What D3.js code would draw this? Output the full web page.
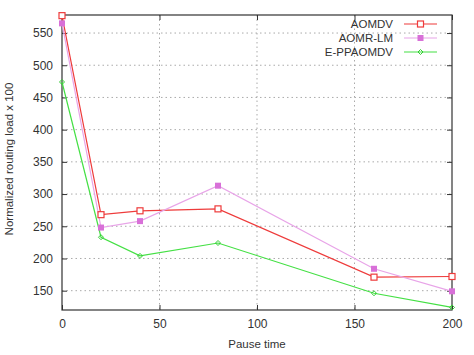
<!DOCTYPE html>
<html><head><meta charset="utf-8">
<script src="https://cdn.jsdelivr.net/npm/d3@7"></script>
<style>body{margin:0;background:#fff}svg{display:block}text{font-family:"Liberation Sans",Arial,sans-serif;fill:#333}</style>
</head><body><svg id="c" width="474" height="355"></svg>
<script>
const pauseTimes = [0, 20, 40, 80, 160, 200];
const aomdv = [577, 268, 274, 277, 171, 172];
const aomrLm = [565, 248, 258, 313, 184, 149];
const eppaomdv = [474, 233, 204, 224, 146, 124];
const xTicks = [0, 50, 100, 150, 200];
const yTicks = [150, 200, 250, 300, 350, 400, 450, 500, 550];
const seriesNames = ["AOMDV", "AOMR-LM", "E-PPAOMDV"];

const svg = d3.select("#c");
const L = 62, R = 452, T = 15, B = 310;
const x = d3.scaleLinear().domain([0, 200]).range([L, R]);
const y = d3.scaleLinear().domain([120, 578]).range([B, T]);

const series = [
  {name: seriesNames[0], vals: aomdv, line: "#ee3b3b", mark: "#ee3b3b", type: "open"},
  {name: seriesNames[1], vals: aomrLm, line: "#e8a4e8", mark: "#d870d8", type: "filled"},
  {name: seriesNames[2], vals: eppaomdv, line: "#44e044", mark: "#33cc33", type: "diamond"}
];

// grid
const g = svg.append("g");
yTicks.forEach(v => g.append("line").attr("x1", L).attr("x2", R).attr("y1", y(v)).attr("y2", y(v))
  .attr("stroke", "#aaa").attr("stroke-dasharray", "1.5,3").attr("stroke-width", 1));
xTicks.slice(1, -1).forEach(v => g.append("line").attr("x1", x(v)).attr("x2", x(v)).attr("y1", T).attr("y2", B)
  .attr("stroke", "#aaa").attr("stroke-dasharray", "1.5,3").attr("stroke-width", 1));

// axes
const ax = svg.append("g");
ax.append("g").attr("transform", `translate(0,${B})`)
  .call(d3.axisBottom(x).tickValues(xTicks).tickSize(-5).tickPadding(9).tickFormat(d3.format("d")));
ax.append("g").attr("transform", `translate(${L},0)`)
  .call(d3.axisLeft(y).tickValues(yTicks).tickSize(-5).tickPadding(9).tickFormat(d3.format("d")));
ax.append("g").attr("transform", `translate(${R},0)`)
  .call(d3.axisRight(y).tickValues(yTicks).tickSize(-5).tickFormat(""));
ax.append("g").attr("transform", `translate(0,${T})`)
  .call(d3.axisTop(x).tickValues(xTicks).tickSize(-5).tickFormat(""));
ax.selectAll(".domain").remove();
ax.selectAll("line").attr("stroke", "#333");
ax.selectAll("text").attr("font-size", 12).attr("fill", "#333").style("font-family", '"Liberation Sans",Arial,sans-serif');
svg.append("rect").attr("x", L).attr("y", T).attr("width", R - L).attr("height", B - T)
  .attr("fill", "none").attr("stroke", "#333").attr("stroke-width", 1.2);

// lines
const lineGen = d3.line().x((d, i) => x(pauseTimes[i])).y(d => y(d));
function marker(sel, s, cx, cy) {
  if (s.type === "open") {
    sel.append("rect").attr("x", cx - 3).attr("y", cy - 3).attr("width", 6).attr("height", 6)
      .attr("fill", "#fff").attr("stroke", s.mark).attr("stroke-width", 1.2);
  } else if (s.type === "filled") {
    sel.append("rect").attr("x", cx - 3).attr("y", cy - 3).attr("width", 6).attr("height", 6)
      .attr("fill", s.mark);
  } else {
    sel.append("path").attr("d", `M${cx},${cy - 2.5}L${cx + 2.5},${cy}L${cx},${cy + 2.5}L${cx - 2.5},${cy}Z`)
      .attr("fill", "none").attr("stroke", s.mark).attr("stroke-width", 1);
  }
}
series.forEach(s => {
  svg.append("path").datum(s.vals).attr("d", lineGen).attr("fill", "none")
    .attr("stroke", s.line).attr("stroke-width", 1.2);
});
series.slice().reverse().forEach(s => {
  const mg = svg.append("g");
  s.vals.forEach((v, i) => marker(mg, s, x(pauseTimes[i]), y(v)));
});

// legend
series.forEach((s, i) => {
  const ly = 24 + i * 14;
  svg.append("text").attr("x", 393).attr("y", ly).attr("dy", "0.35em").attr("text-anchor", "end")
    .attr("font-size", 11.5).text(s.name);
  svg.append("line").attr("x1", 404).attr("x2", 437).attr("y1", ly).attr("y2", ly)
    .attr("stroke", s.line).attr("stroke-width", 1.2);
  marker(svg, s, 420.5, ly);
});

// labels
svg.append("text").attr("x", (L + R) / 2).attr("y", 344).attr("dy", "0.35em").attr("text-anchor", "middle")
  .attr("font-size", 11.5).text("Pause time");
svg.append("text").attr("transform", `translate(9,159) rotate(-90)`).attr("dy", "0.35em")
  .attr("text-anchor", "middle").attr("font-size", 11.5).text("Normalized routing load x 100");
</script></body></html>
